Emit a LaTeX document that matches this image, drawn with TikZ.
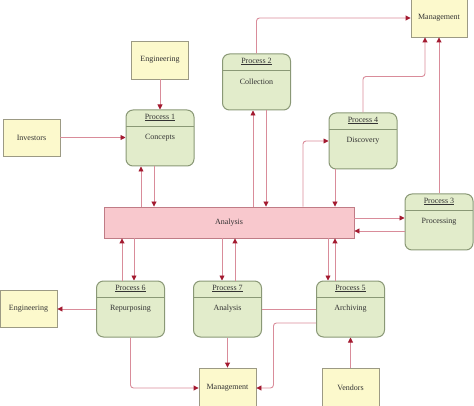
\documentclass[tikz,border=0pt]{standalone}
\usepackage{fontspec}
\setmainfont{Liberation Serif}
\usetikzlibrary{arrows.meta,calc}

\definecolor{boxfill}{HTML}{FCF9CC}
\definecolor{boxline}{HTML}{9C9A84}
\definecolor{procfill}{HTML}{E2ECCB}
\definecolor{procline}{HTML}{8A9876}
\definecolor{anafill}{HTML}{F8C8CD}
\definecolor{analine}{HTML}{C07C86}
\definecolor{flowline}{HTML}{D98C9A}
\definecolor{tipred}{HTML}{A31A30}
\definecolor{txt}{HTML}{333333}

\begin{document}
\begin{tikzpicture}[x=1pt,y=-1pt,
  font=\fontsize{8}{9}\selectfont, text=txt,
  ext/.style={draw=boxline, fill=boxfill, line width=.9pt, minimum width=57pt, minimum height=38pt, inner sep=0pt},
  proc/.style={draw=procline, fill=procfill, line width=1pt, rounded corners=7pt,
    minimum width=68pt, minimum height=56pt, inner sep=0pt,
    path picture={\draw[procline, line width=.8pt] ([yshift=-16pt]path picture bounding box.north west)
      -- ([yshift=-16pt]path picture bounding box.north east);}},
  ptitle/.style={anchor=center, yshift=-8pt},
  flow/.style={draw=flowline, line width=.9pt, rounded corners=3pt,
    -{Triangle[length=5pt,width=5pt,color=tipred]}},
  link/.style={draw=flowline, line width=.9pt}]
  \useasboundingbox (0,0) rectangle (474,406);

  % outside boxes
  \node[ext] at (160,60) (eng1) {Engineering};
  \node[ext, minimum height=37pt] at (31.5,137.5) (inv) {Investors};
  \node[ext, minimum width=56pt] at (439,18) (mgmt1) {Management};
  \node[ext, minimum height=37pt] at (28.5,308.5) (eng2) {Engineering};
  \node[ext, minimum height=40pt] at (227.5,388) (mgmt2) {Management};
  \node[ext, minimum height=40pt] at (350.5,388) (vend) {Vendors};

  % processes
  \node[proc, label={[ptitle]north:\underline{Process 1}}] at (160,138) (p1) {Concepts};
  \node[proc, label={[ptitle]north:\underline{Process 2}}] at (256.5,82) (p2) {Collection};
  \node[proc, label={[ptitle]north:\underline{Process 4}}] at (363,141) (p4) {Discovery};
  \node[proc, label={[ptitle]north:\underline{Process 3}}] at (439,222) (p3) {Processing};
  \node[proc, label={[ptitle]north:\underline{Process 6}}] at (130.5,309) (p6) {Repurposing};
  \node[proc, label={[ptitle]north:\underline{Process 7}}] at (227.5,309) (p7) {Analysis};
  \node[proc, label={[ptitle]north:\underline{Process 5}}] at (350.5,309) (p5) {Archiving};
  \node[draw=analine, fill=anafill, line width=.9pt, minimum width=250pt, minimum height=31pt] at (229,222.5) (ana) {Analysis};

  % connector ends
  \coordinate (p1u) at ([xshift=-19pt]p1.south);
  \coordinate (p1d) at ([xshift=-6pt]p1.south);
  \coordinate (p2u) at ([xshift=-3.5pt]p2.south);
  \coordinate (p2d) at ([xshift=9.5pt]p2.south);
  \coordinate (p4d) at ([xshift=-28pt]p4.south);
  \coordinate (a4) at ([xshift=74pt]ana.north);
  \coordinate (m1a) at ([xshift=-14pt]mgmt1.south);
  \coordinate (p6u) at ([xshift=-8.5pt]p6.north);
  \coordinate (p6d) at ([xshift=3.5pt]p6.north);
  \coordinate (p7d) at ([xshift=-5.5pt]p7.north);
  \coordinate (p7u) at ([xshift=7.5pt]p7.north);
  \coordinate (p5d) at ([xshift=-22.5pt]p5.north);
  \coordinate (p5u) at ([xshift=-15.5pt]p5.north);
  \coordinate (p5l) at ([yshift=-14pt]p5.west);
  \coordinate (m2r) at ([xshift=17pt]mgmt2.east);

  \draw[flow] (eng1.south) -- (p1.north);
  \draw[flow] (inv.east) -- (inv.east -| p1.west);
  \draw[flow] (ana.north -| p1u) -- (p1u);
  \draw[flow] (p1d) -- (ana.north -| p1d);
  \draw[flow] (ana.north -| p2u) -- (p2u);
  \draw[flow] (p2d) -- (ana.north -| p2d);
  \draw[flow] (p2.north) |- (mgmt1.west);
  \draw[flow] (a4) |- (p4.west);
  \draw[flow] (p4d) -- (ana.north -| p4d);
  \draw[flow] (p4.north) -- ++(0,-36) -| (m1a);
  \draw[flow] (p3.north) -- (mgmt1.south);
  \draw[flow] ([yshift=4.5pt]ana.east) -- ([yshift=4pt]p3.west);
  \draw[flow] ([yshift=-9pt]p3.west) -- ([yshift=-8.5pt]ana.east);
  \draw[flow] (p6u) -- (ana.south -| p6u);
  \draw[flow] (ana.south -| p6d) -- (p6d);
  \draw[flow] (p6.west) -- (p6.west -| eng2.east);
  \draw[flow] (p6.south) |- (mgmt2.west);
  \draw[flow] (ana.south -| p7d) -- (p7d);
  \draw[flow] (p7u) -- (ana.south -| p7u);
  \draw[flow] (p7.south) -- (mgmt2.north);
  \draw[link] (p7.east) -- (p5.west);
  \draw[flow] (ana.south -| p5d) -- (p5d);
  \draw[flow] (p5u) -- (ana.south -| p5u);
  \draw[flow] (p5l) -| (m2r) -- (mgmt2.east);
  \draw[flow] (vend.north) -- (p5.south);
\end{tikzpicture}
\end{document}
